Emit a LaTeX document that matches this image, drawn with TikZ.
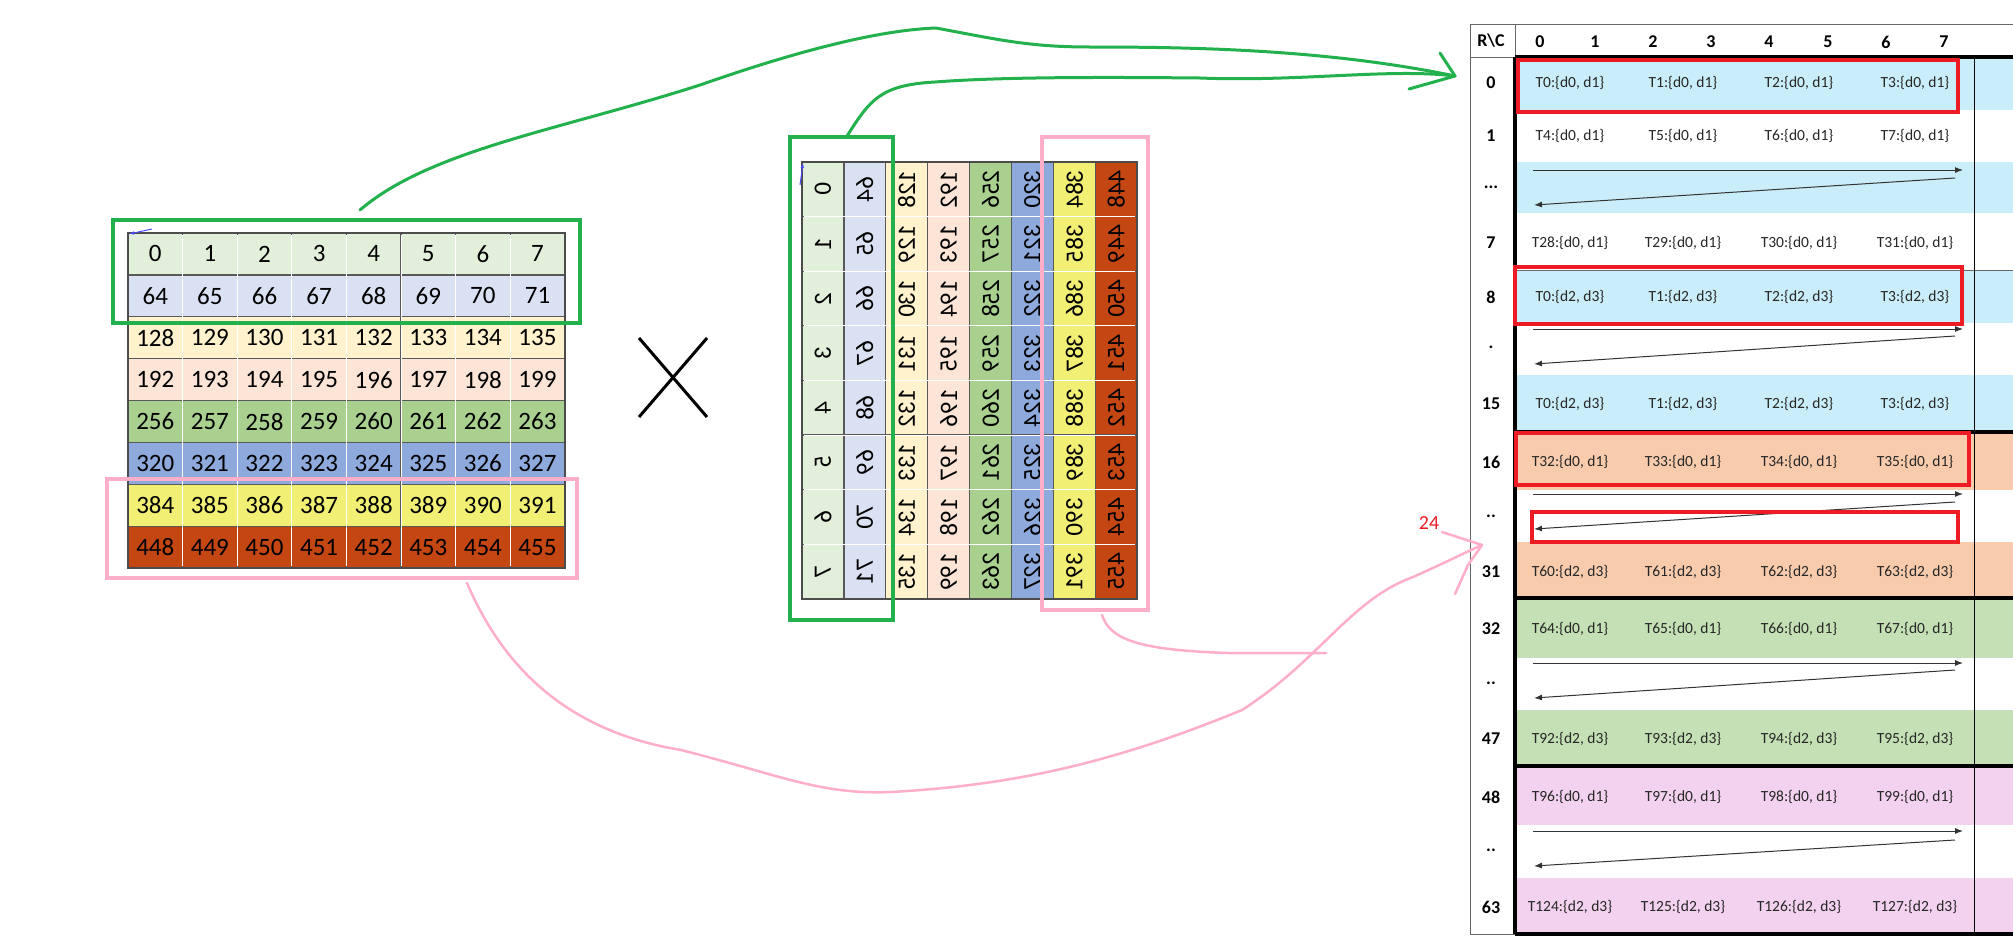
\documentclass[tikz,border=0pt]{standalone}
\usepackage{fontspec}
\setmainfont{Carlito}
\usetikzlibrary{arrows.meta}
\definecolor{gA}{HTML}{E2EFDA}\definecolor{gB}{HTML}{D9E1F2}\definecolor{gC}{HTML}{FFF2CC}
\definecolor{gD}{HTML}{FCE4D6}\definecolor{gE}{HTML}{A9D08E}\definecolor{gF}{HTML}{8EA9DB}
\definecolor{gG}{HTML}{F2F074}\definecolor{gH}{HTML}{C44613}
\definecolor{mgreen}{HTML}{22B14C}\definecolor{mpink}{HTML}{FFAEC9}\definecolor{mred}{HTML}{ED1C24}
\definecolor{bBlue}{HTML}{CAEEF9}\definecolor{bOr}{HTML}{F8CBAD}\definecolor{bGr}{HTML}{C5E0B4}\definecolor{bPk}{HTML}{F2D2EE}
\tikzset{
 cell/.style={draw=black!65,line width=1.2pt,minimum width=54.6pt,minimum height=41.9pt,inner sep=0pt,font=\fontsize{25}{28}\selectfont,anchor=center},
 gbox/.style={draw=mgreen,line width=4.5pt},
 pbox/.style={draw=mpink,line width=3.5pt},
 rbox/.style={draw=mred,line width=4pt},
 gstroke/.style={draw=mgreen,line width=3pt,line cap=round,line join=round},
 pstroke/.style={draw=mpink,line width=2.5pt,line cap=round,line join=round},
 tc/.style={font=\fontsize{15.5}{18}\selectfont,text=black!85},
 rl/.style={font=\bfseries\fontsize{18}{20}\selectfont},
 zz/.style={draw=black!80,line width=1pt,-{Latex[length=8pt,width=6pt]}},
}
\newcommand\drawmatrix[1]{%
 \foreach \r/\col in {0/gA,1/gB,2/gC,3/gD,4/gE,5/gF,6/gG,7/gH}{
  \foreach \c in {0,1,2,3,4,5,6,7}{
   \pgfmathtruncatemacro\val{64*\r+\c}
   \node[cell,fill=\col] (#1-\r-\c) at ({27.3+54.6*\c},{20.95+41.9*\r}) {\val};
  }}
 \foreach \c in {1,2,3,4,5,6,7}{\draw[white,line width=0.8pt] ({54.6*\c},2)--({54.6*\c},{41.9*8-2});}
 \draw[black!70,line width=1.5pt] (0,0) rectangle (436.8,335.2);
}
\newcommand\trow[5]{%
 \node[tc] at (1570,#1) {#2};\node[tc] at (1683,#1) {#3};
 \node[tc] at (1799,#1) {#4};\node[tc] at (1915,#1) {#5};}
\newcommand\zig[3]{%
 \draw[zz] (1533,#1) -- (1963,#1);
 \draw[zz] (1955,#2) -- (1534,#3);}
\begin{document}
\begin{tikzpicture}[x=1pt,y=-1pt]
\useasboundingbox[fill=white] (0,0) rectangle (2013,948);
% left matrix
\begin{scope}[shift={(128,233)}]
 \drawmatrix{m}
\end{scope}
\draw[blue!70,line width=1pt,-{Latex[length=5pt]}] (152,229) -- (129,234);
% middle transposed matrix
\begin{scope}[shift={(802,162)}]
 \begin{scope}[cm={0,-1,-1,0,(0,0)},transform shape]
  \drawmatrix{t}
 \end{scope}
\end{scope}
\draw[blue!70,line width=1pt,-{Latex[length=5pt]}] (800,185) -- (803,163);
% boxes
\node[gbox,minimum width=467pt,minimum height=103pt] (gl) at (346.5,271.5) {};
\node[pbox,minimum width=470pt,minimum height=99pt] (pl) at (342,528.5) {};
\node[gbox,minimum width=103pt,minimum height=483pt] (gm) at (841.5,378.5) {};
\node[pbox,minimum width=106pt,minimum height=473pt] (pm) at (1095,373.5) {};
% X
\coordinate (x1) at (639,338);\coordinate (x2) at (707,417);
\coordinate (x3) at (707,338);\coordinate (x4) at (639,417);
\draw[line width=3pt] (x1)--(x2) (x3)--(x4);
% right table
\fill[bBlue] (1515,57) rectangle (2013,110);
\fill[bBlue] (1515,162) rectangle (2013,213);
\fill[bBlue] (1515,270) rectangle (2013,323);
\fill[bBlue] (1515,375) rectangle (2013,432);
\fill[bOr] (1515,432) rectangle (2013,490);
\fill[bOr] (1515,542) rectangle (2013,598);
\fill[bGr] (1515,598) rectangle (2013,658);
\fill[bGr] (1515,710) rectangle (2013,766);
\fill[bPk] (1515,766) rectangle (2013,825);
\fill[bPk] (1515,878) rectangle (2013,934);
\draw[black!60,line width=1pt] (1470,24) -- (2013,24);
\draw[black!60,line width=1pt] (1470,24) -- (1470,934) -- (1515,934);
\draw[black!60,line width=1pt] (1470,57) -- (1515,57);
\draw[black!60,line width=1pt] (1515,24) -- (1515,57);
\draw[black!60,line width=1pt] (1515,270) -- (2013,270);
\draw[black,line width=1pt] (1974,57) -- (1974,934);
\draw[black,line width=3.5pt] (1515,57) -- (2013,57);
\draw[black,line width=3.5pt] (1515,57) -- (1515,934);
\foreach \yy in {432,598,766,934}{\draw[black,line width=3.5pt] (1515,\yy) -- (2013,\yy);}
\node[rl] at (1491,41) {R\textbackslash C};
\foreach \c/\xx in {0/1540,1/1595,2/1653,3/1711,4/1769,5/1828,6/1886,7/1944}{\node[rl] at (\xx,42) {\c};}
\foreach \l/\yy in {0/83,1/136,7/243,8/297,15/404,16/462,31/572,32/629,47/739,48/797,63/907}{\node[rl] at (1491,\yy) {\l};}
\node[rl] at (1491,187) {...};
\node[rl] at (1491,347) {.};
\node[rl] at (1491,516) {..};
\node[rl] at (1491,683) {..};
\node[rl] at (1491,850) {..};
\trow{83}{T0:\{d0, d1\}}{T1:\{d0, d1\}}{T2:\{d0, d1\}}{T3:\{d0, d1\}}
\trow{136}{T4:\{d0, d1\}}{T5:\{d0, d1\}}{T6:\{d0, d1\}}{T7:\{d0, d1\}}
\trow{243}{T28:\{d0, d1\}}{T29:\{d0, d1\}}{T30:\{d0, d1\}}{T31:\{d0, d1\}}
\trow{297}{T0:\{d2, d3\}}{T1:\{d2, d3\}}{T2:\{d2, d3\}}{T3:\{d2, d3\}}
\trow{404}{T0:\{d2, d3\}}{T1:\{d2, d3\}}{T2:\{d2, d3\}}{T3:\{d2, d3\}}
\trow{462}{T32:\{d0, d1\}}{T33:\{d0, d1\}}{T34:\{d0, d1\}}{T35:\{d0, d1\}}
\trow{572}{T60:\{d2, d3\}}{T61:\{d2, d3\}}{T62:\{d2, d3\}}{T63:\{d2, d3\}}
\trow{629}{T64:\{d0, d1\}}{T65:\{d0, d1\}}{T66:\{d0, d1\}}{T67:\{d0, d1\}}
\trow{739}{T92:\{d2, d3\}}{T93:\{d2, d3\}}{T94:\{d2, d3\}}{T95:\{d2, d3\}}
\trow{797}{T96:\{d0, d1\}}{T97:\{d0, d1\}}{T98:\{d0, d1\}}{T99:\{d0, d1\}}
\trow{907}{T124:\{d2, d3\}}{T125:\{d2, d3\}}{T126:\{d2, d3\}}{T127:\{d2, d3\}}
\zig{170}{178}{205}
\zig{329}{336}{364}
\zig{494}{502}{529}
\zig{663}{670}{698}
\zig{831}{840}{866}
% red boxes
\node[rbox,minimum width=440pt,minimum height=52pt] (r1) at (1738,86) {};
\node[rbox,minimum width=447pt,minimum height=57pt] (r2) at (1738.5,295.5) {};
\node[rbox,minimum width=453pt,minimum height=52pt] (r3) at (1742.5,459) {};
\node[rbox,minimum width=426pt,minimum height=30pt] (r4) at (1745,527) {};
\node[text=mred,font=\fontsize{20}{22}\selectfont] (n24) at (1429,523) {24};
% green curves
\coordinate (gt) at (1455,76);
\coordinate (gs1) at (360,210);
\coordinate (gs2) at (847,136);
\draw[gstroke] (gs1) .. controls (430,150) and (560,130) .. (700,85)
  .. controls (800,50) and (880,30) .. (936,28)
  .. controls (1000,40) and (1030,47) .. (1090,47)
  .. controls (1200,47) and (1330,50) .. (gt);
\draw[gstroke] (gs2) .. controls (870,100) and (880,85) .. (935,82)
  .. controls (1000,77) and (1100,77) .. (1200,78)
  .. controls (1300,82) and (1390,68) .. (gt);
\draw[gstroke] (1440,53) -- (gt) -- (1409,89);
% pink curves
\coordinate (ps1) at (467,583);
\coordinate (ps2) at (1102,615);
\coordinate (pe2) at (1326,653);
\coordinate (ptip) at (1482,545);
\draw[pstroke] (ps1) .. controls (500,660) and (560,730) .. (681,750)
  .. controls (780,775) and (820,795) .. (891,792)
  .. controls (1020,785) and (1120,760) .. (1242,710)
  .. controls (1320,660) and (1350,600) .. (1413,577)
  .. controls (1440,565) and (1460,555) .. (ptip);
\draw[pstroke] (ps2) .. controls (1110,640) and (1140,650) .. (1228,653) -- (pe2);
\draw[pstroke] (1442,532) -- (ptip) -- (1468,565) -- (1455,594);
\end{tikzpicture}
\end{document}
